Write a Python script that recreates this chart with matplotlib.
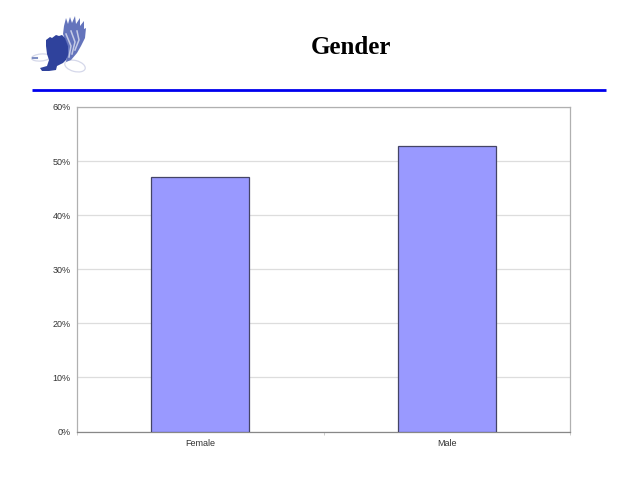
import matplotlib
matplotlib.use('Agg')
import matplotlib.pyplot as plt
from matplotlib.patches import Polygon, Ellipse
from matplotlib.ticker import PercentFormatter

plt.rcParams['font.family'] = ['Liberation Sans', 'DejaVu Sans']

categories = ['Female', 'Male']
shares = [47.1, 52.8]
y_ticks = [0, 10, 20, 30, 40, 50, 60]

W, H = 638, 478
fig = plt.figure(figsize=(W / 100, H / 100), dpi=100, facecolor='white')

# page layer in pixel coordinates (title, rule, logo)
page = fig.add_axes([0, 0, 1, 1])
page.set_xlim(0, W)
page.set_ylim(H, 0)
page.axis('off')

page.text(351, 47, 'Gender', ha='center', va='center', fontsize=18,
          fontweight='bold', family=['Liberation Serif', 'DejaVu Serif'], color='black')
page.plot([32, 606], [90, 90], color='#0000ee', lw=2, solid_capstyle='butt')

# rough eagle logo
page.add_patch(Ellipse((41, 57.5), 19, 7, angle=-5, fc='none', ec='#d5d8ea', lw=0.9))
page.add_patch(Ellipse((75, 66), 21, 11, angle=15, fc='none', ec='#d5d8ea', lw=0.9))
wing = [(63, 34), (64, 26), (66, 18), (68, 24), (70, 17), (72, 23), (75, 16), (76, 24), (80, 18),
        (80, 26), (84, 21), (84, 29), (86, 28), (85, 38), (81, 46), (77, 53), (71, 60), (66, 62), (68, 48)]
page.add_patch(Polygon(wing, closed=True, fc='#6474bc', ec='none'))
for pts in ([(66, 34), (71, 46), (69, 57)], [(71, 31), (75, 42), (72, 54)], [(77, 31), (79, 40), (75, 50)]):
    page.plot(*zip(*pts), color='#c5cbe6', lw=1.1)
body = [(46, 40), (50, 37), (52, 38), (56, 35), (59, 36), (62, 35), (65, 38), (68, 46), (68, 55),
        (66, 60), (63, 63), (57, 66), (56, 70), (49, 71), (42, 71), (40, 68), (47, 66), (49, 60),
        (47, 54), (46, 46)]
page.add_patch(Polygon(body, closed=True, fc='#2f429c', ec='none'))
page.plot([33, 37], [58, 58], color='#8090c4', lw=1.5)

# chart
ax = fig.add_axes([77 / W, 1 - 431.5 / H, (570 - 77) / W, (431.5 - 107) / H])
ax.set_zorder(2)
ax.patch.set_alpha(0)
x = range(len(categories))
ax.bar(x, shares, width=0.398, color='#9999ff', edgecolor='#444466', linewidth=0.9, zorder=3)

ax.set_xlim(-0.5, 1.5)
ax.set_ylim(0, 60)
ax.set_yticks(y_ticks)
ax.yaxis.set_major_formatter(PercentFormatter(decimals=0))
ax.set_xticks([-0.5, 0.5, 1.5])
ax.set_xticklabels([])
ax.set_xticks(list(x), labels=categories, minor=True)
ax.tick_params(axis='x', which='major', length=2, width=0.7, color='#cccccc')
ax.tick_params(axis='x', which='minor', length=0, pad=5.5, labelsize=6.5, labelcolor='#333333')
ax.tick_params(axis='y', length=0, pad=4.5, labelsize=6.5, labelcolor='#333333')
ax.grid(axis='y', color='#dddddd', lw=0.9, zorder=0)
ax.set_axisbelow(True)
for s in ax.spines.values():
    s.set_color('#b0b0b0')
    s.set_linewidth(0.9)
ax.spines['bottom'].set_color('#888888')

fig.savefig('out.png', dpi=100)
